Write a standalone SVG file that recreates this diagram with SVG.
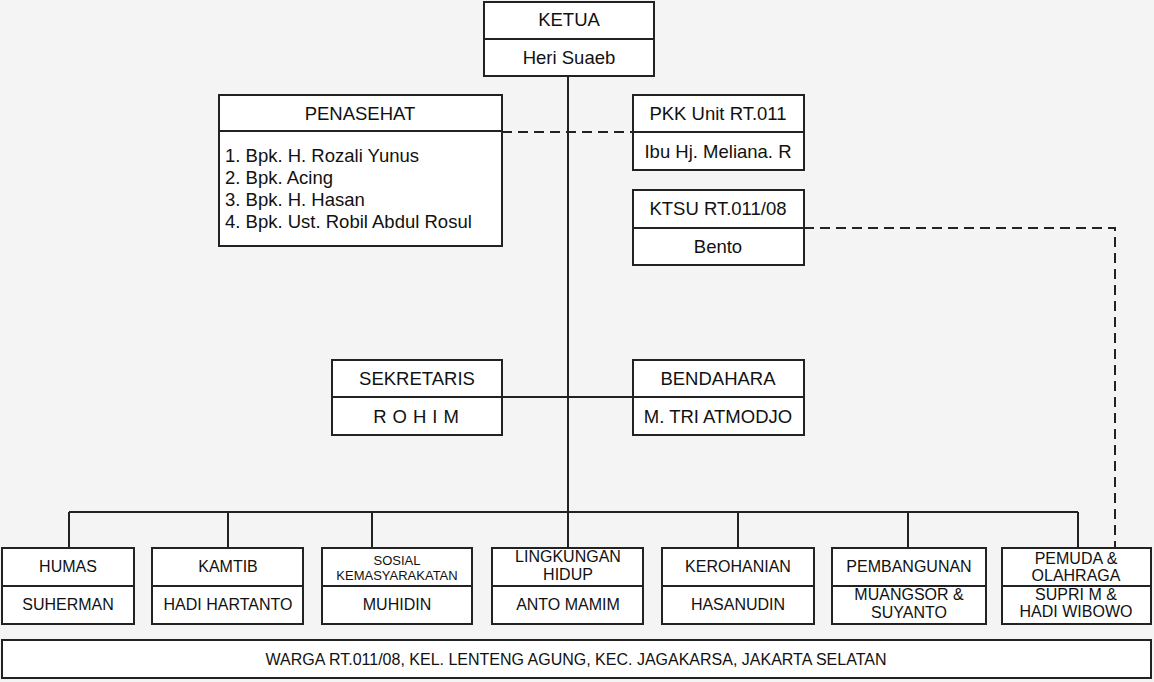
<svg xmlns="http://www.w3.org/2000/svg" width="1154" height="682" viewBox="0 0 1154 682">
<style>
rect{fill:#fff;stroke:#222;stroke-width:2}
line{stroke:#222;stroke-width:2}
.d{stroke-dasharray:10 6}
text{font-family:"Liberation Sans",Arial,sans-serif;font-size:18.5px;fill:#111;text-anchor:middle}
.s{font-size:16px}
.x{font-size:13px}
.l{text-anchor:start}
</style>
<rect x="0" y="0" width="1154" height="682" style="fill:#f4f4f4;stroke:none"/>
<g id="connectors">
<line x1="568" y1="76" x2="568" y2="548"/>
<line x1="502" y1="397" x2="633" y2="397"/>
<line x1="69" y1="512" x2="1078" y2="512"/>
<line x1="69" y1="512" x2="69" y2="548"/>
<line x1="228" y1="512" x2="228" y2="548"/>
<line x1="372" y1="512" x2="372" y2="548"/>
<line x1="738" y1="512" x2="738" y2="548"/>
<line x1="908" y1="512" x2="908" y2="548"/>
<line x1="1078" y1="512" x2="1078" y2="548"/>
<line class="d" x1="502" y1="132" x2="633" y2="132"/>
<polyline class="d" points="804,228 1115,228 1115,548" style="fill:none;stroke:#222;stroke-width:2"/>
</g>
<g id="ketua"><rect x="484" y="2" width="170" height="74"/><line x1="484" y1="39" x2="654" y2="39"/><text x="569" y="26">KETUA</text><text x="569" y="64">Heri Suaeb</text></g>
<g id="penasehat"><rect x="219" y="95" width="283" height="151"/><line x1="219" y1="131" x2="502" y2="131"/><text x="360" y="120">PENASEHAT</text>
<text class="l" x="225" y="162">1. Bpk. H. Rozali Yunus</text><text class="l" x="225" y="184">2. Bpk. Acing</text><text class="l" x="225" y="206">3. Bpk. H. Hasan</text><text class="l" x="225" y="228">4. Bpk. Ust. Robil Abdul Rosul</text></g>
<g id="pkk"><rect x="633" y="95" width="171" height="75"/><line x1="633" y1="132" x2="804" y2="132"/><text x="718" y="120">PKK Unit RT.011</text><text x="718" y="158">Ibu Hj. Meliana. R</text></g>
<g id="ktsu"><rect x="633" y="190" width="171" height="75"/><line x1="633" y1="228" x2="804" y2="228"/><text x="718" y="215">KTSU RT.011/08</text><text x="718" y="253">Bento</text></g>
<g id="sekretaris"><rect x="332" y="360" width="170" height="75"/><line x1="332" y1="397" x2="502" y2="397"/><text x="417" y="385">SEKRETARIS</text><text x="419" y="423" style="letter-spacing:6px">ROHIM</text></g>
<g id="bendahara"><rect x="633" y="360" width="171" height="75"/><line x1="633" y1="397" x2="804" y2="397"/><text x="718" y="385">BENDAHARA</text><text x="718" y="423">M. TRI ATMODJO</text></g>
<g id="humas"><rect x="2" y="548" width="132" height="76"/><line x1="2" y1="586" x2="134" y2="586"/><text class="s" x="68" y="572">HUMAS</text><text class="s" x="68" y="610">SUHERMAN</text></g>
<g id="kamtib"><rect x="152" y="548" width="151" height="76"/><line x1="152" y1="586" x2="303" y2="586"/><text class="s" x="228" y="572">KAMTIB</text><text class="s" x="228" y="610">HADI HARTANTO</text></g>
<g id="sosial"><rect x="322" y="548" width="150" height="76"/><line x1="322" y1="586" x2="472" y2="586"/><text class="x" x="397" y="565">SOSIAL</text><text class="x" x="397" y="580">KEMASYARAKATAN</text><text class="s" x="397" y="610">MUHIDIN</text></g>
<g id="lingkungan"><rect x="492" y="548" width="151" height="76"/><line x1="492" y1="586" x2="643" y2="586"/><text class="s" x="568" y="562">LINGKUNGAN</text><text class="s" x="568" y="580">HIDUP</text><text class="s" x="568" y="610">ANTO MAMIM</text></g>
<g id="kerohanian"><rect x="662" y="548" width="152" height="76"/><line x1="662" y1="586" x2="814" y2="586"/><text class="s" x="738" y="572">KEROHANIAN</text><text class="s" x="738" y="610">HASANUDIN</text></g>
<g id="pembangunan"><rect x="832" y="548" width="154" height="76"/><line x1="832" y1="586" x2="986" y2="586"/><text class="s" x="909" y="572">PEMBANGUNAN</text><text class="s" x="909" y="600">MUANGSOR &amp;</text><text class="s" x="909" y="618">SUYANTO</text></g>
<g id="pemuda"><rect x="1002" y="548" width="149" height="76"/><line x1="1002" y1="586" x2="1151" y2="586"/><text class="s" x="1076" y="564">PEMUDA &amp;</text><text class="s" x="1076" y="581">OLAHRAGA</text><text class="s" x="1076" y="600">SUPRI M &amp;</text><text class="s" x="1076" y="617">HADI WIBOWO</text></g>
<g id="warga"><rect x="2" y="640" width="1149" height="38"/><text class="s" x="576" y="665">WARGA RT.011/08, KEL. LENTENG AGUNG, KEC. JAGAKARSA, JAKARTA SELATAN</text></g>
</svg>
